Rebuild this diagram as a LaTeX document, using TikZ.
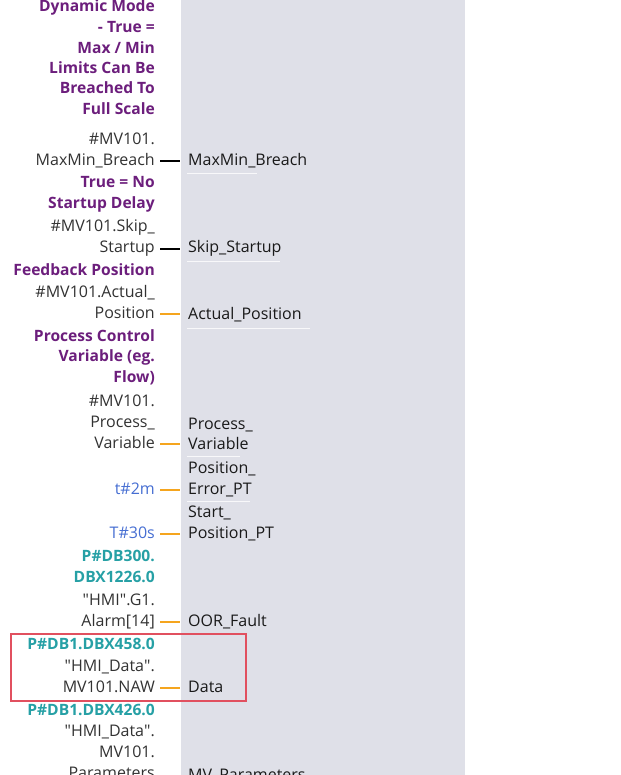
\documentclass[tikz,border=0pt]{standalone}
\usepackage{fontspec}
\setmainfont{Open Sans}
\definecolor{panelc}{RGB}{223,224,232}
\definecolor{purp}{RGB}{108,30,124}
\definecolor{grayt}{RGB}{50,50,50}
\definecolor{tealt}{RGB}{38,160,165}
\definecolor{bluet}{RGB}{70,110,210}
\definecolor{wireo}{RGB}{245,165,30}
\definecolor{redbox}{RGB}{225,80,95}
\definecolor{pint}{RGB}{25,25,25}
\tikzset{
  txt/.style={inner sep=0pt, text height=11pt, text depth=3pt, font=\fontsize{16}{18}\selectfont},
  lft/.style={txt, anchor=east},
  cmt/.style={lft, text=purp, font=\fontsize{15.6}{18}\selectfont\bfseries},
  opd/.style={lft, text=grayt},
  cst/.style={lft, text=bluet},
  ptr/.style={lft, text=tealt, font=\fontsize{15.6}{18}\selectfont\bfseries},
  pin/.style={txt, anchor=west, text=pint},
  wireb/.style={draw=black, line width=2pt, shorten <=5pt, shorten >=8pt},
  wirey/.style={draw=wireo, line width=2pt, shorten <=5pt, shorten >=8pt},
  sep/.style={draw=white, line width=0.9pt, opacity=0.8},
}
\begin{document}
\begin{tikzpicture}[x=1pt,y=-1pt]
\useasboundingbox (0,0) rectangle (620,775);
\fill[panelc] (181,0) rectangle (465,775);
% separators
\draw[sep] (187,173) -- (257,173);
\draw[sep] (187,261) -- (280,261);
\draw[sep] (187,328) -- (310,328);
\draw[sep] (187,456) -- (240,456);
\draw[sep] (187,501) -- (250,501);
% left column
\node[cmt] (c1) at (155,8) {Dynamic Mode};
\node[cmt] (c2) at (155,29) {- True =};
\node[cmt] (c3) at (155,49.5) {Max / Min};
\node[cmt] (c4) at (155,69.5) {Limits Can Be};
\node[cmt] (c5) at (155,90) {Breached To};
\node[cmt] (c6) at (155,110.5) {Full Scale};
\node[opd] (o1) at (155,141) {\#MV101.};
\node[opd] (o2) at (155,161.5) {MaxMin\_Breach};
\node[cmt] (c7) at (155,184) {True = No};
\node[cmt] (c8) at (155,204.5) {Startup Delay};
\node[opd] (o3) at (155,228) {\#MV101.Skip\_};
\node[opd] (o4) at (155,249) {Startup};
\node[cmt] (c9) at (155,271) {Feedback Position};
\node[opd] (o5) at (155,293) {\#MV101.Actual\_};
\node[opd] (o6) at (155,314) {Position};
\node[cmt] (c10) at (155,337) {Process Control};
\node[cmt] (c11) at (155,357.5) {Variable (eg.};
\node[cmt] (c12) at (155,378) {Flow)};
\node[opd] (o7) at (155,402) {\#MV101.};
\node[opd] (o8) at (155,423) {Process\_};
\node[opd] (o9) at (155,444) {Variable};
\node[cst] (k1) at (155,490) {t\#2m};
\node[cst] (k2) at (155,534) {T\#30s};
\node[ptr] (p1) at (155,557) {P\#DB300.};
\node[ptr] (p2) at (155,578) {DBX1226.0};
\node[opd] (o10) at (155,601) {\textquotedbl HMI\textquotedbl.G1.};
\node[opd] (o11) at (155,622) {Alarm[14]};
\node[ptr] (p3) at (155,645) {P\#DB1.DBX458.0};
\node[opd] (o12) at (155,667) {\textquotedbl HMI\_Data\textquotedbl.};
\node[opd] (o13) at (155,688) {MV101.NAW};
\node[ptr] (p4) at (155,711) {P\#DB1.DBX426.0};
\node[opd] (o14) at (155,732) {\textquotedbl HMI\_Data\textquotedbl.};
\node[opd] (o15) at (155,753) {MV101.};
\node[opd] (o16) at (155,774) {Parameters};
% pins
\node[pin] (r1) at (188,162) {MaxMin\_Breach};
\node[pin] (r2) at (188,249) {Skip\_Startup};
\node[pin] (r3) at (188,315) {Actual\_Position};
\node[pin] (r4a) at (188,425) {Process\_};
\node[pin] (r4) at (188,445) {Variable};
\node[pin] (r5a) at (188,469) {Position\_};
\node[pin] (r5) at (188,490) {Error\_PT};
\node[pin] (r6a) at (188,513) {Start\_};
\node[pin] (r6) at (188,534) {Position\_PT};
\node[pin] (r7) at (188,622) {OOR\_Fault};
\node[pin] (r8) at (188,688) {Data};
\node[pin] (r9) at (188,776) {MV\_Parameters};
% wires
\draw[wireb] (o2.east) -- (r1.west |- o2.east);
\draw[wireb] (o4.east) -- (r2.west |- o4.east);
\draw[wirey] (o6.east) -- (r3.west |- o6.east);
\draw[wirey] (o9.east) -- (r4.west |- o9.east);
\draw[wirey] (k1.east) -- (r5.west |- k1.east);
\draw[wirey] (k2.east) -- (r6.west |- k2.east);
\draw[wirey] (o11.east) -- (r7.west |- o11.east);
\draw[wirey] (o13.east) -- (r8.west |- o13.east);
% highlight box
\node[draw=redbox, line width=1.5pt, inner sep=0pt, minimum width=235pt, minimum height=67pt, anchor=north west] (hb) at (10,633) {};
\end{tikzpicture}
\end{document}
